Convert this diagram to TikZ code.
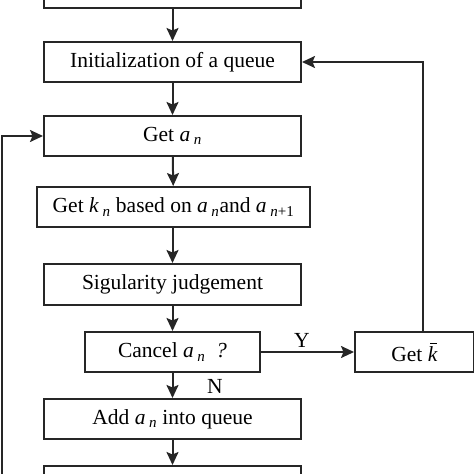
\documentclass[tikz,border=0pt]{standalone}
\usepackage{fontspec}
\setmainfont{Liberation Serif}
\usetikzlibrary{arrows.meta}

\newcommand{\itsub}[2]{\textit{#1}\,\textsubscript{\textit{#2}}}
\newcommand{\kbar}{\rlap{\hspace{2.5pt}\rule[17pt]{6.5pt}{1.4pt}}\textit{k}}

\tikzset{
  box/.style={draw=black!85, line width=2pt, rectangle, inner sep=0pt,
    minimum width=257pt, minimum height=40pt,
    font=\fontsize{21.5}{24}\selectfont},
  flow/.style={draw=black!85, line width=2pt, -{Stealth[length=13pt,width=12pt,inset=2.5pt]}},
  lbl/.style={font=\fontsize{21.5}{24}\selectfont}
}

\begin{document}
\begin{tikzpicture}[x=1pt,y=-1pt]
\clip (0,0) rectangle (474,474);

\node[box] (start) at (172.5,-12) {};
\node[box] (init) at (172.5,62) {Initialization of a queue};
\node[box] (geta) at (172.5,136) {Get \itsub{a}{n}};
\node[box, minimum width=273pt] (getk) at (173.5,207)
  {Get \itsub{k}{n} based on \itsub{a}{n}and \textit{a}\,\textsubscript{\textit{n}+1}};
\node[box, minimum height=41pt] (sing) at (172.5,284.5) {Sigularity judgement};
\node[box, minimum width=175pt] (cancel) at (172.5,352) {Cancel \itsub{a}{n}\ \ \textit{?}};
\node[box, minimum width=119pt] (kbar) at (414.5,352) {Get \kbar};
\node[box] (add) at (172.5,419) {Add \itsub{a}{n} into queue};
\node[box] (next) at (172.5,486) {};

\draw[flow] (start) -- (init);
\draw[flow] (init) -- (geta);
\draw[flow] (geta) -- (getk);
\draw[flow] ([xshift=-1pt]getk.south) -- (sing);
\draw[flow] (sing) -- (cancel);
\draw[flow] (cancel) -- (add);
\draw[flow] (add) -- (next);

% Y branch
\draw[flow] (cancel) -- (kbar);
\node[lbl] (yes) at (302,340) {Y};
\node[lbl] (no) at (215,386) {N};
\draw[flow] ([xshift=8.5pt]kbar.north) |- (init.east);

% loop back
\coordinate (back) at (2,480);
\draw[flow] (back) |- (geta.west);

\end{tikzpicture}
\end{document}
